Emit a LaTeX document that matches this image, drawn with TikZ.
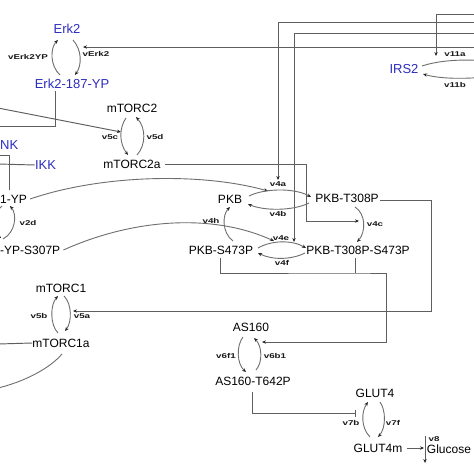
\documentclass[tikz,border=0pt]{standalone}
\usepackage{fontspec}
\setmainfont{Liberation Sans}
\newfontfamily\rfont[FakeStretch=1.4]{Liberation Sans}
\usetikzlibrary{arrows.meta}
\definecolor{spblue}{RGB}{45,45,190}
\definecolor{lngray}{RGB}{95,95,95}
\definecolor{cvgray}{RGB}{110,110,110}
\tikzset{
 sp/.style={inner sep=0pt, font=\fontsize{12}{12}\selectfont, text height=8.6pt, text depth=0pt, text=black},
 bsp/.style={inner sep=0pt, font=\fontsize{13}{13}\selectfont, text height=9.3pt, text depth=0pt, text=spblue},
 rlab/.style={inner sep=0pt, font=\rfont\bfseries\fontsize{7}{7}\selectfont, text height=5pt, text depth=0pt, text=black!90},
 ln/.style={draw=lngray, line width=0.95pt},
 cv/.style={draw=cvgray, line width=0.9pt},
 tip/.style={-{Stealth[length=4pt,width=3.4pt,color=black!85]}},
 inh/.style={-{Bar[width=7pt]}},
}
\begin{document}
\begin{tikzpicture}[x=1pt,y=-1pt]
\useasboundingbox (0,0) rectangle (474,474);
\clip (0,0) rectangle (474,474);
\fill[white] (0,0) rectangle (474,474);

% species
\node[bsp] (erk2) at (67,29) {Erk2};
\node[bsp] (erk2yp) at (72,84) {Erk2-187-YP};
\node[bsp] (irs2) at (404,69) {IRS2};
\node[bsp,anchor=west] (jnk) at (0,145) {NK};
\node[bsp] (ikk) at (45.5,165) {IKK};
\node[sp] (mtorc2) at (132,108) {mTORC2};
\node[sp] (mtorc2a) at (132,164) {mTORC2a};
\node[sp,anchor=west] (irs1yp) at (0,199) {1-YP};
\node[sp,anchor=west] (irs1yps) at (0,250) {-YP-S307P};
\node[sp] (pkb) at (230,199) {PKB};
\node[sp] (pkbt) at (347,198) {PKB-T308P};
\node[sp] (pkbs) at (221,250) {PKB-S473P};
\node[sp] (pkbts) at (358,250) {PKB-T308P-S473P};
\node[sp] (mtorc1) at (61,288) {mTORC1};
\node[sp] (mtorc1a) at (61,343) {mTORC1a};
\node[sp] (as160) at (251,327) {AS160};
\node[sp] (as160t) at (253,381) {AS160-T642P};
\node[sp] (glut4) at (375,393) {GLUT4};
\node[sp] (glut4m) at (378,448) {GLUT4m};
\node[sp] (glucose) at (449,449) {Glucose};

% reaction labels
\node[rlab] (lverk2yp) at (28,57) {vErk2YP};
\node[rlab] (lverk2) at (96,54) {vErk2};
\node[rlab] (lv5c) at (110,137) {v5c};
\node[rlab] (lv5d) at (155,137) {v5d};
\node[rlab] (lv11a) at (455,54) {v11a};
\node[rlab] (lv11b) at (455,85) {v11b};
\node[rlab] (lv2d) at (28,223) {v2d};
\node[rlab] (lv4a) at (278,184) {v4a};
\node[rlab] (lv4b) at (278,214) {v4b};
\node[rlab] (lv4c) at (375,224) {v4c};
\node[rlab] (lv4e) at (281,238) {v4e};
\node[rlab] (lv4f) at (282,263) {v4f};
\node[rlab] (lv4h) at (211,221) {v4h};
\node[rlab] (lv5b) at (39,316) {v5b};
\node[rlab] (lv5a) at (82,316) {v5a};
\node[rlab] (lv6f1) at (226,356) {v6f1};
\node[rlab] (lv6b1) at (275,356) {v6b1};
\node[rlab] (lv7b) at (351,423) {v7b};
\node[rlab] (lv7f) at (393,423) {v7f};
\node[rlab] (lv8) at (434,439) {v8};

% coordinates
\coordinate (inA) at (478,22);
\coordinate (inB) at (478,33);
\coordinate (inC) at (478,14);
\coordinate (erkin) at (478,47);
\coordinate (verk2pt) at (83,47);
\coordinate (v4apt) at (278,180);
\coordinate (v4ept) at (294,242);
\coordinate (v11apt) at (436,56);
\coordinate (v4cpt) at (359,221);
\coordinate (v5apt) at (73,311);
\coordinate (v6b1pt) at (262,342);
\coordinate (v7bpt) at (356,413);
\coordinate (v5cpt) at (121,132);
\coordinate (v8pt) at (424,448);
\coordinate (v8top) at (425,436);
\coordinate (v8bot) at (425,463);
\coordinate (erkleft) at (-2,126);
\coordinate (l5c) at (-2,108);
\coordinate (jl) at (-2,155);
\coordinate (il) at (-2,164);
\coordinate (c1in) at (-2,344);
\coordinate (c1out) at (-6,389);
\coordinate (irs2u) at (486,61);
\coordinate (irs2l) at (486,77);
\coordinate (j1) at (355,273);

% Erk2 cycle
\draw[cv,tip] ([shift={(-12,-9)}]erk2yp.center) .. controls (50,66) and (50,48) .. ([shift={(-9,11)}]erk2.center);
\draw[cv,tip] ([shift={(6,11)}]erk2.center) .. controls (82,50) and (82,65) .. ([shift={(3,-9)}]erk2yp.center);
\draw[ln,tip] (erkin) -- (verk2pt);
\draw[ln] ([shift={(-17,7)}]erk2yp.center) |- (erkleft);
\draw[ln,tip] (l5c) -- (v5cpt);

% mTORC2 cycle
\draw[cv,tip] ([shift={(-6,10)}]mtorc2.center) .. controls (119,128) and (119,143) .. ([shift={(-4,-9)}]mtorc2a.center);
\draw[cv,tip] ([shift={(5,-9)}]mtorc2a.center) .. controls (146,145) and (146,128) .. ([shift={(4,9)}]mtorc2.center);
\draw[ln,tip] ([shift={(33,0)}]mtorc2a.center) -| (306,221) -- (v4cpt);

% top-right inputs
\draw[ln,tip] (inA) -| (v4apt);
\draw[ln,tip] (inB) -| (v4ept);
\draw[ln,tip] (inC) -| (v11apt);

% IRS2
\draw[cv] ([shift={(18,-3)}]irs2.center) .. controls (440,60) and (465,59) .. (irs2u);
\draw[cv,tip] (irs2l) .. controls (465,79) and (440,79) .. ([shift={(19,5)}]irs2.center);

% JNK / IKK
\draw[ln] (jl) -| ([shift={(9,-9)}]irs1yp.west);
\draw[ln] (il) -- (ikk.west);

% IRS1 cycle part
\draw[cv,tip] ([shift={(3,-11)}]irs1yps.west) .. controls (16,232) and (17,214) .. ([shift={(10,7)}]irs1yp.west);
\draw[cv,tip] ([shift={(2,7)}]irs1yp.west) .. controls (-8,214) and (-8,230) .. ([shift={(1,-12)}]irs1yps.west);

% IRS1 to PKB reactions
\draw[cv,tip] ([shift={(3,0)}]irs1yp.east) .. controls (100,175) and (200,172) .. ([shift={(38,-8)}]pkb.center);
\draw[cv,tip] ([shift={(3,0)}]irs1yps.east) .. controls (130,220) and (210,212) .. ([shift={(53,-9)}]pkbs.center);

% PKB cycle
\draw[cv,tip] ([shift={(19,-3)}]pkb.center) .. controls (265,188) and (295,188) .. ([shift={(-36,-1)}]pkbt.center);
\draw[cv,tip] ([shift={(-38,5)}]pkbt.center) .. controls (293,211) and (264,211) .. ([shift={(18,5)}]pkb.center);
\draw[cv,tip] ([shift={(8,9)}]pkbt.center) .. controls (366,214) and (366,232) .. ([shift={(-1,-8)}]pkbts.center);
\draw[cv,tip] ([shift={(37,-2)}]pkbs.center) .. controls (272,240) and (292,240) .. ([shift={(-52,-2)}]pkbts.center);
\draw[cv,tip] ([shift={(-53,3)}]pkbts.center) .. controls (291,260) and (272,260) .. ([shift={(37,3)}]pkbs.center);
\draw[cv,tip] ([shift={(12,-9)}]pkbs.center) .. controls (222,233) and (222,215) .. ([shift={(0,8)}]pkb.center);

% PKB outputs
\draw[ln,tip] ([shift={(-1,8)}]pkbs.center) |- (j1) -- (386,273) |- (v6b1pt);
\draw[ln] ([shift={(-3,8)}]pkbts.center) -- (j1);
\draw[ln,tip] ([shift={(33,2)}]pkbt.center) -| (431,311) -- (v5apt);

% mTORC1 cycle
\draw[cv,tip] ([shift={(-3,-10)}]mtorc1a.center) .. controls (50,325) and (50,305) .. ([shift={(-3,8)}]mtorc1.center);
\draw[cv,tip] ([shift={(3,8)}]mtorc1.center) .. controls (72,304) and (72,322) .. ([shift={(4,-12)}]mtorc1a.center);
\draw[ln] (c1in) -- (mtorc1a.west);
\draw[cv] ([shift={(1,11)}]mtorc1a.center) .. controls (50,368) and (25,382) .. (c1out);

% AS160 cycle
\draw[cv,tip] ([shift={(-8,10)}]as160.center) .. controls (236,346) and (237,364) .. ([shift={(-7,-9)}]as160t.center);
\draw[cv,tip] ([shift={(3,-11)}]as160t.center) .. controls (263,362) and (262,346) .. ([shift={(3,11)}]as160.center);
\draw[ln,inh] ([shift={(-1,11)}]as160t.center) |- (v7bpt);

% GLUT4 cycle
\draw[cv,tip] ([shift={(-8,-11)}]glut4m.center) .. controls (361,428) and (361,412) .. ([shift={(-7,9)}]glut4.center);
\draw[cv,tip] ([shift={(5,9)}]glut4.center) .. controls (386,410) and (386,428) .. ([shift={(0,-11)}]glut4m.center);
\draw[ln,tip] ([shift={(29,0)}]glut4m.center) -- (v8pt);
\draw[ln,tip] (v8top) -- (v8bot);
\end{tikzpicture}
\end{document}
